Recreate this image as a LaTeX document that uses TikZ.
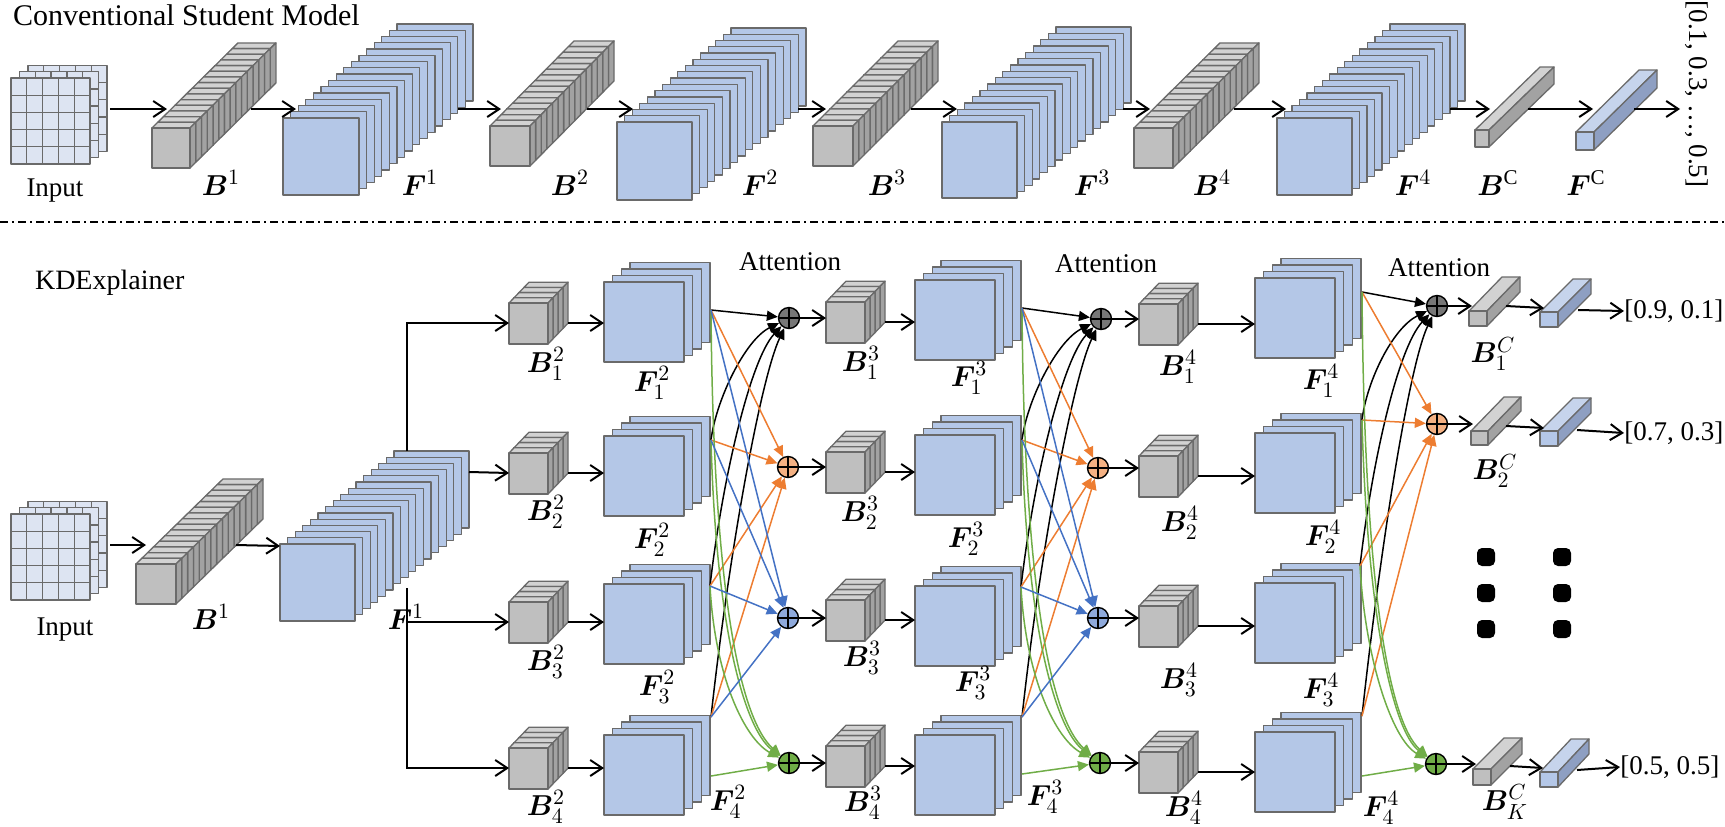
\documentclass[tikz,border=0pt]{standalone}
\usepackage{amsmath,bm}
\usepackage{fontspec}
\setmainfont{Liberation Serif}
\usetikzlibrary{arrows.meta}

\definecolor{fblue}{HTML}{B4C7E7}
\definecolor{btop}{HTML}{C6D4EC}
\definecolor{bside}{HTML}{8E9FC2}
\definecolor{gfront}{HTML}{BFBFBF}
\definecolor{gtop}{HTML}{D2D2D2}
\definecolor{gside}{HTML}{A2A2A2}
\definecolor{edge}{HTML}{6A6A6A}
\definecolor{gridfill}{HTML}{DDE4F2}
\definecolor{lorange}{HTML}{ED7D31}
\definecolor{lblue}{HTML}{4472C4}
\definecolor{lgreen}{HTML}{70AD47}
\definecolor{porange}{HTML}{F4B183}
\definecolor{pblue}{HTML}{8FAADC}
\definecolor{pgray}{HTML}{777777}

% one box: x, y (front top left), w, h, depth dx, dy, front, top, side
\newcommand{\cuboid}[9]{%
  \filldraw[box,fill=#8] (#1,#2) -- (#1+#5,#2+#6) -- (#1+#3+#5,#2+#6) -- (#1+#3,#2) -- cycle;
  \filldraw[box,fill=#9] (#1+#3,#2) -- (#1+#3+#5,#2+#6) -- (#1+#3+#5,#2+#4+#6) -- (#1+#3,#2+#4) -- cycle;
  \filldraw[box,fill=#7] (#1,#2) rectangle (#1+#3,#2+#4);
}
% row of grey slabs: x, y, w, h, count, dx, dy
\newcommand{\slabs}[7]{%
  \foreach \k in {#5,...,1}{%
    \pgfmathsetmacro{\sx}{#1+(\k-1)*(#6)}%
    \pgfmathsetmacro{\sy}{#2+(\k-1)*(#7)}%
    \cuboid{\sx}{\sy}{#3}{#4}{#6}{#7}{gfront}{gtop}{gside}
  }%
}
% row of blue maps: x, y, w, h, count, dx, dy
\newcommand{\sheets}[7]{%
  \foreach \k in {#5,...,1}{%
    \pgfmathsetmacro{\sx}{#1+(\k-1)*(#6)}%
    \pgfmathsetmacro{\sy}{#2+(\k-1)*(#7)}%
    \filldraw[box,fill=fblue] (\sx,\sy) rectangle ++(#3,#4);
  }%
}
% input image, three layers of 5x5 cells
\newcommand{\gridstack}[2]{%
  \foreach \k in {2,1,0}{%
    \pgfmathsetmacro{\gx}{#1+8.5*\k}%
    \pgfmathsetmacro{\gy}{#2-6.3*\k}%
    \filldraw[box,fill=gridfill] (\gx,\gy) rectangle ++(79,86);
    \foreach \j in {1,...,4}{%
      \draw[box] (\gx+15.8*\j,\gy) -- ++(0,86);
      \draw[box] (\gx,\gy+17.2*\j) -- ++(79,0);
    }%
  }%
}
% attention links of one stage: sources #1-1..4, sums #2-1, #2-2, #2-4
\newcommand{\links}[2]{%
  \draw[link] (#1-1) -- (#2-1);
  \draw[link] (#1-2) .. controls +(5,-40) and +(-44,22) .. (#2-1);
  \draw[link] (#1-3) .. controls +(12,-105) and +(-39,42) .. (#2-1);
  \draw[link] (#1-4) .. controls +(17,-157) and +(-29,62) .. (#2-1);
  \foreach \r in {1,...,4} \draw[link,lorange] (#1-\r) -- (#2-2);
  \draw[link,lgreen] (#1-1) .. controls +(2,282) and +(-49,-44) .. (#2-4);
  \draw[link,lgreen] (#1-2) .. controls +(5,190) and +(-44,-34) .. (#2-4);
  \draw[link,lgreen] (#1-3) .. controls +(5,92) and +(-44,-24) .. (#2-4);
  \draw[link,lgreen] (#1-4g) -- (#2-4);
}
\newcommand{\bluelinks}[2]{%
  \foreach \r in {1,...,4} \draw[link,lblue] (#1-\r) -- (#2-3);
}

\begin{document}
\begin{tikzpicture}[x=0.5pt,y=-0.5pt,
    box/.style={draw=edge,line width=0.65pt,line join=round},
    arr/.style={-{Straight Barb[length=6pt,width=8pt]},line width=1pt},
    link/.style={-{Triangle[length=5.5pt,width=5pt]},line width=0.75pt},
    sep/.style={line width=0.6pt,dash pattern=on 4pt off 2pt on 1pt off 2pt},
    addnode/.style={circle,draw=black,line width=0.7pt,minimum size=10.5pt,inner sep=0pt,
      path picture={\draw[line width=0.7pt] (path picture bounding box.north) -- (path picture bounding box.south)
        (path picture bounding box.west) -- (path picture bounding box.east);}},
    title/.style={font=\fontsize{15}{18}\selectfont},
    txt/.style={font=\fontsize{13.5}{16}\selectfont},
    lab/.style={font=\fontsize{15}{18}\selectfont,inner sep=0pt},
    dotbox/.style={fill=black,rounded corners=2.5pt,minimum size=9pt,inner sep=0pt}]
\useasboundingbox (0,0) rectangle (1725,826);

% conventional student model
\node[title,anchor=base west] (ttl) at (6,25) {Conventional Student Model};
\gridstack{11}{78}
\node[txt] (tin) at (55,191) {Input};
\coordinate (tin-o) at (110,109);
\slabs{152}{128}{38}{40}{15}{5.73}{-5.67}
\coordinate (tB1-i) at (167,109); \coordinate (tB1-o) at (251,109);
\sheets{283}{118}{76}{77}{16}{7.6}{-6.27}
\coordinate (tF1-i) at (296,109); \coordinate (tF1-o) at (458,109);
\slabs{490}{126}{40}{40}{15}{5.6}{-5.67}
\coordinate (tB2-i) at (501,109); \coordinate (tB2-o) at (587,109);
\sheets{617}{122}{75}{78}{16}{7.6}{-6.27}
\coordinate (tF2-i) at (633,109); \coordinate (tF2-o) at (798,109);
\slabs{813}{126}{40}{40}{15}{5.67}{-5.67}
\coordinate (tB3-i) at (826,109); \coordinate (tB3-o) at (911,109);
\sheets{942}{122}{75}{76}{16}{7.6}{-6.33}
\coordinate (tF3-i) at (957,109); \coordinate (tF3-o) at (1123,109);
\slabs{1134}{128}{39}{40}{15}{5.73}{-5.67}
\coordinate (tB4-i) at (1150,109); \coordinate (tB4-o) at (1234,109);
\sheets{1277}{118}{75}{77}{16}{7.53}{-6.27}
\coordinate (tF4-i) at (1286,109); \coordinate (tF4-o) at (1450,109);
\cuboid{1475}{130}{14}{17}{65}{-63}{gfront}{gtop}{gside}
\coordinate (tBC-i) at (1490,109); \coordinate (tBC-o) at (1528,109);
\cuboid{1576}{132}{18}{18}{63}{-62}{fblue}{btop}{bside}
\coordinate (tFC-i) at (1593,109); \coordinate (tFC-o) at (1634,109);
\node[txt,rotate=-90] (tout) at (1697,94) {[0.1, 0.3, …, 0.5]};
\coordinate (tout-i) at (1680,109);
\foreach \a/\b in {tin-o/tB1-i,tB1-o/tF1-i,tF1-o/tB2-i,tB2-o/tF2-i,tF2-o/tB3-i,tB3-o/tF3-i,
    tF3-o/tB4-i,tB4-o/tF4-i,tF4-o/tBC-i,tBC-o/tFC-i,tFC-o/tout-i}
  \draw[arr] (\a) -- (\b);
\foreach \n/\x/\t in {ltB1/221/{\bm{B}^1},ltF1/420/{\bm{F}^1},ltB2/570/{\bm{B}^2},ltF2/760/{\bm{F}^2},
    ltB3/887/{\bm{B}^3},ltF3/1092/{\bm{F}^3},ltB4/1212/{\bm{B}^4},ltF4/1413/{\bm{F}^4},
    ltBC/1498/{\bm{B}^{\mathrm{C}}},ltFC/1586/{\bm{F}^{\mathrm{C}}}}
  \node[lab] (\n) at (\x,183) {$\t$};

\coordinate (sepL) at (0,222); \coordinate (sepR) at (1725,222);
\draw[sep] (sepL) -- (sepR);

% KDExplainer
\node[title,anchor=base west,font=\fontsize{14}{17}\selectfont] (kd) at (28,289) {KDExplainer};
\gridstack{11}{514}
\node[txt] (bin) at (65,630) {Input};
\coordinate (bin-o) at (110,545);
\slabs{136}{564}{40}{40}{15}{5.8}{-5.67}
\coordinate (bB1-i) at (146,545); \coordinate (bB1-o) at (236,545);
\sheets{280}{544}{75}{77}{16}{7.6}{-6.2}
\coordinate (bF1-i) at (280,546);
\draw[arr] (bin-o) -- (bB1-i);
\draw[arr] (bB1-o) -- (bF1-i);
\coordinate (bF1-t) at (407,451); \coordinate (bF1-r) at (469,472);
\coordinate (bF1-m) at (408,622); \coordinate (bF1-b) at (407,588);

% stage 2
\foreach \r/\by/\fy in {1/303/282,2/453/436,3/602/584,4/748/735}{
  \slabs{509}{\by}{39}{41}{4}{5}{-5.2}
  \sheets{604}{\fy}{80}{80}{4}{8.7}{-6.5}
  \coordinate (B2\r-i) at (509,\by+20); \coordinate (B2\r-o) at (568,\by+20);
  \coordinate (F2\r-i) at (604,\by+20);
  \draw[arr] (B2\r-o) -- (F2\r-i);
}
\draw[arr] (bF1-t) |- (B21-i);
\draw[arr] (bF1-r) -- (B22-i);
\draw[arr] (bF1-m) -- (B23-i);
\draw[arr] (bF1-b) |- (B24-i);
\coordinate (s2-1) at (711,310); \coordinate (s2-2) at (711,440);
\coordinate (s2-3) at (710,586); \coordinate (s2-4) at (711,717);
\coordinate (s2-4g) at (711,776);
\node[addnode,fill=pgray] (p2-1) at (789,318) {};
\node[addnode,fill=porange] (p2-2) at (788,467) {};
\node[addnode,fill=pblue] (p2-3) at (788,618) {};
\node[addnode,fill=lgreen] (p2-4) at (789,763) {};
\links{s2}{p2}
\bluelinks{s2}{p2}

% stage 3
\foreach \r/\by/\fy in {1/302/280,2/452/435,3/600/586,4/746/735}{
  \slabs{826}{\by}{39}{41}{4}{5}{-5.2}
  \sheets{915}{\fy}{80}{80}{4}{8.7}{-6.5}
  \coordinate (B3\r-o) at (885,\by+20); \coordinate (F3\r-i) at (915,\by+20);
  \draw[arr] (B3\r-o) -- (F3\r-i);
}
\foreach \r/\py in {1/318,2/467,3/618,4/763}{
  \coordinate (B3\r-i) at (826,\py);
  \draw[arr] (p2-\r) -- (B3\r-i);
}
\coordinate (s3-1) at (1022,308); \coordinate (s3-2) at (1022,440);
\coordinate (s3-3) at (1021,587); \coordinate (s3-4) at (1022,717);
\coordinate (s3-4g) at (1022,774);
\node[addnode,fill=pgray] (p3-1) at (1101,319) {};
\node[addnode,fill=porange] (p3-2) at (1098,468) {};
\node[addnode,fill=pblue] (p3-3) at (1098,618) {};
\node[addnode,fill=lgreen] (p3-4) at (1100,763) {};
\links{s3}{p3}
\bluelinks{s3}{p3}

% stage 4
\foreach \r/\by/\fy in {1/304/278,2/456/433,3/606/583,4/752/732}{
  \slabs{1139}{\by}{39}{41}{4}{5}{-5.2}
  \sheets{1255}{\fy}{80}{80}{4}{8.7}{-6.5}
  \coordinate (B4\r-o) at (1198,\by+20); \coordinate (F4\r-i) at (1255,\by+20);
  \draw[arr] (B4\r-o) -- (F4\r-i);
}
\foreach \r/\py in {1/319,2/468,3/618,4/763}{
  \coordinate (B4\r-i) at (1139,\py);
  \draw[arr] (p3-\r) -- (B4\r-i);
}
\coordinate (s4-1) at (1362,292); \coordinate (s4-2) at (1362,420);
\coordinate (s4-3) at (1360,566); \coordinate (s4-4) at (1362,716);
\coordinate (s4-4g) at (1362,776);
\node[addnode,fill=pgray] (p4-1) at (1437,306) {};
\node[addnode,fill=porange] (p4-2) at (1437,424) {};
\node[addnode,fill=lgreen] (p4-4) at (1436,764) {};
\links{s4}{p4}

% classifier heads
\cuboid{1469}{311}{18}{15}{33}{-34}{gfront}{gtop}{gside}
\cuboid{1540}{312}{18}{15}{33}{-33}{fblue}{btop}{bside}
\cuboid{1471}{431}{17}{14}{33}{-34}{gfront}{gtop}{gside}
\cuboid{1540}{431}{18}{15}{33}{-33}{fblue}{btop}{bside}
\cuboid{1473}{769}{18}{16}{31}{-31}{gfront}{gtop}{gside}
\cuboid{1540}{772}{18}{15}{31}{-33}{fblue}{btop}{bside}
\node[txt,anchor=west,inner sep=0pt] (o1) at (1624,311) {[0.9, 0.1]};
\node[txt,anchor=west,inner sep=0pt] (o2) at (1624,433) {[0.7, 0.3]};
\node[txt,anchor=west,inner sep=0pt] (oK) at (1620,767) {[0.5, 0.5]};
\coordinate (BC1-i) at (1472,306); \coordinate (BC1-o) at (1506,306);
\coordinate (FC1-i) at (1544,308); \coordinate (FC1-o) at (1578,310);
\coordinate (BC2-i) at (1473,424); \coordinate (BC2-o) at (1506,426);
\coordinate (FC2-i) at (1544,428); \coordinate (FC2-o) at (1577,430);
\coordinate (BCK-i) at (1476,764); \coordinate (BCK-o) at (1510,766);
\coordinate (FCK-i) at (1543,768); \coordinate (FCK-o) at (1577,770);
\draw[arr] (p4-1) -- (BC1-i); \draw[arr] (BC1-o) -- (FC1-i); \draw[arr] (FC1-o) -- (o1.west);
\draw[arr] (p4-2) -- (BC2-i); \draw[arr] (BC2-o) -- (FC2-i); \draw[arr] (FC2-o) -- (o2.west);
\draw[arr] (p4-4) -- (BCK-i); \draw[arr] (BCK-o) -- (FCK-i); \draw[arr] (FCK-o) -- (oK.west);
\foreach \x in {1486,1562}
  \foreach \y in {557,593,629}
    \node[dotbox] (dot-\x-\y) at (\x,\y) {};

% labels
\node[txt] (at1) at (790,262) {Attention};
\node[txt] (at2) at (1106,264) {Attention};
\node[txt] (at3) at (1439,268) {Attention};
\foreach \n/\x/\y/\t in {lbB1/211/617/{\bm{B}^1},lbF1/406/617/{\bm{F}^1},
    lB21/546/364/{\bm{B}_1^2},lB22/546/512/{\bm{B}_2^2},lB23/546/662/{\bm{B}_3^2},lB24/546/807/{\bm{B}_4^2},
    lF21/652/383/{\bm{F}_1^2},lF22/652/540/{\bm{F}_2^2},lF23/657/687/{\bm{F}_3^2},lF24/728/802/{\bm{F}_4^2},
    lB31/861/363/{\bm{B}_1^3},lB32/860/513/{\bm{B}_2^3},lB33/862/658/{\bm{B}_3^3},lB34/863/803/{\bm{B}_4^3},
    lF31/969/378/{\bm{F}_1^3},lF32/966/539/{\bm{F}_2^3},lF33/973/683/{\bm{F}_3^3},lF34/1045/797/{\bm{F}_4^3},
    lB41/1178/367/{\bm{B}_1^4},lB42/1180/523/{\bm{B}_2^4},lB43/1179/680/{\bm{B}_3^4},lB44/1184/808/{\bm{B}_4^4},
    lF41/1321/381/{\bm{F}_1^4},lF42/1323/537/{\bm{F}_2^4},lF43/1321/690/{\bm{F}_3^4},lF44/1381/808/{\bm{F}_4^4},
    lBC1/1493/354/{\bm{B}_1^C},lBC2/1495/471/{\bm{B}_2^C},lBCK/1505/802/{\bm{B}_K^C}}
  \node[lab] (\n) at (\x,\y) {$\t$};
\end{tikzpicture}
\end{document}
